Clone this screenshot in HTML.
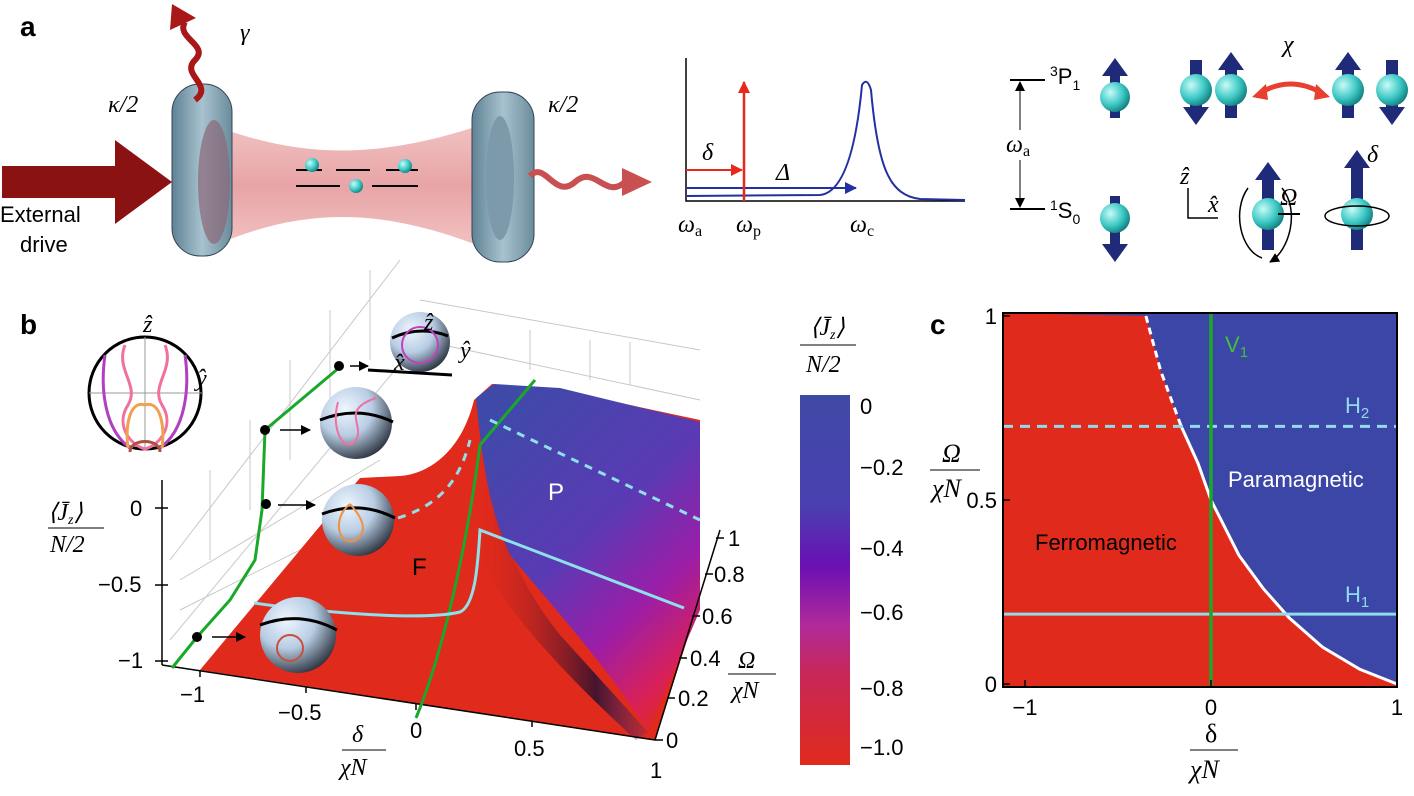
<!DOCTYPE html>
<html><head><meta charset="utf-8"><style>
body{margin:0;background:#fff;}
svg{display:block;font-family:"Liberation Sans",sans-serif;}
.t{font-size:22px;fill:#000}
.it{font-family:"Liberation Serif",serif;font-style:italic;font-size:24px}
</style></head><body>
<svg width="1414" height="796" viewBox="0 0 1414 796">
<defs>
<radialGradient id="sph" cx="0.35" cy="0.3" r="0.75"><stop offset="0" stop-color="#eef6ff"/><stop offset="0.5" stop-color="#b8cde4"/><stop offset="1" stop-color="#2c3440"/></radialGradient>
<radialGradient id="atom" cx="0.35" cy="0.35" r="0.7"><stop offset="0" stop-color="#c8fbf8"/><stop offset="0.6" stop-color="#3cc8c4"/><stop offset="1" stop-color="#137e80"/></radialGradient>
<linearGradient id="cb" x1="0" y1="0" x2="0" y2="1"><stop offset="0" stop-color="#3f4aa6"/><stop offset="0.3" stop-color="#4a3fb0"/><stop offset="0.46" stop-color="#6a10b4"/><stop offset="0.62" stop-color="#b02a9a"/><stop offset="0.75" stop-color="#c8285a"/><stop offset="1" stop-color="#e02a1c"/></linearGradient>
<linearGradient id="surfB" x1="0.2" y1="0" x2="0.8" y2="1"><stop offset="0" stop-color="#3f4aa8"/><stop offset="0.45" stop-color="#5a3ab4"/><stop offset="0.7" stop-color="#9a1ea8"/><stop offset="0.9" stop-color="#d8205a"/><stop offset="1" stop-color="#e02a20"/></linearGradient>
<linearGradient id="cliff" x1="0" y1="0" x2="1" y2="0"><stop offset="0" stop-color="#e02a1c" stop-opacity="0"/><stop offset="0.7" stop-color="#2a1030" stop-opacity="0.85"/><stop offset="1" stop-color="#3b2a7a" stop-opacity="0.2"/></linearGradient>
<linearGradient id="mir" x1="0" y1="0" x2="1" y2="0"><stop offset="0" stop-color="#5f8294"/><stop offset="0.5" stop-color="#a8c2cf"/><stop offset="1" stop-color="#6b8c9c"/></linearGradient>
<linearGradient id="beam" x1="0" y1="0" x2="0" y2="1"><stop offset="0" stop-color="#f2c3c3"/><stop offset="0.5" stop-color="#e8a4a6"/><stop offset="1" stop-color="#f2c3c3"/></linearGradient>
<marker id="ah" markerUnits="userSpaceOnUse" markerWidth="10" markerHeight="10" refX="9" refY="5" orient="auto"><path d="M0,0L10,5L0,10z" fill="#000"/></marker>
<marker id="ahr" markerUnits="userSpaceOnUse" markerWidth="12" markerHeight="12" refX="11" refY="6" orient="auto"><path d="M0,0L12,6L0,12z" fill="#e8281c"/></marker>
<marker id="ahb" markerUnits="userSpaceOnUse" markerWidth="12" markerHeight="12" refX="11" refY="6" orient="auto"><path d="M0,0L12,6L0,12z" fill="#2430a0"/></marker>
</defs>

<!-- PANEL A -->
<g>
<text x="20" y="36" font-weight="bold" font-size="28">a</text>
<path d="M2,166 L115,166 L115,140 L172,182 L115,224 L115,198 L2,198z" fill="#8b1212"/>
<text x="108" y="112" class="it">κ/2</text>
<text x="0" y="222" class="t">External</text>
<text x="20" y="252" class="t">drive</text>
<path d="M205,122 C300,160 380,160 490,122 L490,250 C380,206 300,206 205,250z" fill="url(#beam)"/>
<g><rect x="172" y="84" width="60" height="172" rx="28" fill="url(#mir)" stroke="#345" stroke-width="1"/><ellipse cx="214" cy="182" rx="16" ry="62" fill="#8a6878" opacity="0.7"/></g>
<g><rect x="472" y="92" width="62" height="170" rx="28" fill="url(#mir)" stroke="#345" stroke-width="1"/><ellipse cx="500" cy="178" rx="14" ry="62" fill="#7c9aaa"/></g>
<path d="M195,100 C215,85 180,75 195,60 C210,45 175,38 185,22" fill="none" stroke="#a81818" stroke-width="6"/>
<path d="M170,30 L172,4 L196,18z" fill="#a81818"/>
<text x="240" y="40" class="it">γ</text>
<path d="M530,176 C545,160 555,200 575,182 C595,164 605,200 625,182" fill="none" stroke="#c85050" stroke-width="6"/>
<path d="M622,168 L652,182 L622,196z" fill="#c85050"/>
<text x="548" y="112" class="it">κ/2</text>
<g stroke="#000" stroke-width="2"><line x1="296" y1="170" x2="322" y2="170"/><line x1="336" y1="170" x2="370" y2="170"/><line x1="386" y1="170" x2="418" y2="170"/><line x1="296" y1="186" x2="340" y2="186"/><line x1="372" y1="186" x2="418" y2="186"/></g>
<circle cx="312" cy="165" r="7" fill="url(#atom)"/><circle cx="356" cy="186" r="7" fill="url(#atom)"/><circle cx="405" cy="166" r="7" fill="url(#atom)"/>
<g>
<polyline points="686,58 686,201 965,201" fill="none" stroke="#000" stroke-width="1.5"/>
<path d="M686,196 L820,195 C840,193 855,160 862,85 C865,80 868,80 871,90 C878,170 890,195 920,199 L965,200" fill="none" stroke="#2430a0" stroke-width="2"/>
<line x1="686" y1="188" x2="856" y2="188" stroke="#2430a0" stroke-width="2" marker-end="url(#ahb)"/>
<line x1="686" y1="170" x2="742" y2="170" stroke="#e8281c" stroke-width="2" marker-end="url(#ahr)"/>
<line x1="744" y1="201" x2="744" y2="82" stroke="#e8281c" stroke-width="2.5" marker-end="url(#ahr)"/>
<text x="702" y="160" class="it">δ</text><text x="776" y="180" class="it">Δ</text>
<text x="678" y="232" class="it">ω<tspan font-size="16" dy="4" font-style="normal">a</tspan></text>
<text x="736" y="232" class="it">ω<tspan font-size="16" dy="4" font-style="normal">p</tspan></text>
<text x="850" y="232" class="it">ω<tspan font-size="16" dy="4" font-style="normal">c</tspan></text>
</g>
<g>
<line x1="1010" y1="80" x2="1045" y2="80" stroke="#000" stroke-width="2"/><line x1="1010" y1="209" x2="1045" y2="209" stroke="#000" stroke-width="2"/>
<line x1="1020" y1="130" x2="1020" y2="82" stroke="#000" marker-end="url(#ah)"/><line x1="1020" y1="160" x2="1020" y2="207" stroke="#000" marker-end="url(#ah)"/>
<text x="1050" y="84" class="t"><tspan font-size="14" dy="-8">3</tspan><tspan dy="8">P</tspan><tspan font-size="14" dy="6">1</tspan></text>
<text x="1050" y="218" class="t"><tspan font-size="14" dy="-8">1</tspan><tspan dy="8">S</tspan><tspan font-size="14" dy="6">0</tspan></text>
<text x="1006" y="152" class="it">ω<tspan font-size="16" dy="4" font-style="normal">a</tspan></text>
<g fill="#1f2a78">
<path d="M1115,58 L1102,76 L1110,76 L1110,118 L1120,118 L1120,76 L1128,76z"/>
<path d="M1115,262 L1102,244 L1110,244 L1110,196 L1120,196 L1120,244 L1128,244z"/>
<path d="M1196,125 L1183,107 L1190,107 L1190,60 L1202,60 L1202,107 L1209,107z"/>
<path d="M1231,52 L1218,70 L1225,70 L1225,118 L1237,118 L1237,70 L1244,70z"/>
<path d="M1348,52 L1335,70 L1342,70 L1342,118 L1354,118 L1354,70 L1361,70z"/>
<path d="M1392,125 L1379,107 L1386,107 L1386,60 L1398,60 L1398,107 L1405,107z"/>
<path d="M1268,162 L1255,180 L1262,180 L1262,250 L1274,250 L1274,180 L1281,180z"/>
<path d="M1357,150 L1344,168 L1351,168 L1351,250 L1363,250 L1363,168 L1370,168z"/>
</g>
<circle cx="1115" cy="97" r="15" fill="url(#atom)"/><circle cx="1115" cy="218" r="15" fill="url(#atom)"/>
<circle cx="1196" cy="90" r="16" fill="url(#atom)"/><circle cx="1231" cy="90" r="16" fill="url(#atom)"/>
<circle cx="1348" cy="90" r="16" fill="url(#atom)"/><circle cx="1392" cy="90" r="16" fill="url(#atom)"/>
<circle cx="1268" cy="214" r="16" fill="url(#atom)"/><circle cx="1357" cy="214" r="16" fill="url(#atom)"/>
<g><path d="M1262,92 Q1290,76 1320,92" fill="none" stroke="#e84030" stroke-width="5"/><path d="M1252,97 L1266,84 L1268,100z M1330,97 L1316,84 L1314,100z" fill="#e84030"/></g>
<text x="1283" y="52" class="it">χ</text>
<path d="M1248,188 C1232,210 1240,250 1262,258" fill="none" stroke="#000" stroke-width="1.5"/><path d="M1282,188 C1300,210 1290,250 1270,262" fill="none" stroke="#000" stroke-width="1.5" marker-end="url(#ah)"/>
<line x1="1278" y1="214" x2="1300" y2="214" stroke="#000" stroke-width="2"/>
<text x="1280" y="205" class="it" font-size="20">Ω</text>
<ellipse cx="1357" cy="216" rx="32" ry="10" fill="none" stroke="#000" stroke-width="1.5"/>
<text x="1367" y="162" class="it" font-size="20">δ</text>
<polyline points="1188,188 1188,218 1218,218" fill="none" stroke="#000" stroke-width="1.5"/>
<text x="1180" y="184" class="it" font-size="20">ẑ</text><text x="1208" y="212" class="it" font-size="20">x̂</text>
</g>
</g>

<!-- PANEL B -->
<g>
<text x="20" y="334" font-weight="bold" font-size="28">b</text>
<g stroke="#c8c8c8" stroke-width="1">
<line x1="170" y1="640" x2="420" y2="340"/><line x1="170" y1="560" x2="400" y2="260"/>
<line x1="210" y1="560" x2="210" y2="470"/><line x1="250" y1="510" x2="250" y2="420"/><line x1="290" y1="460" x2="290" y2="360"/><line x1="330" y1="410" x2="330" y2="310"/><line x1="370" y1="360" x2="370" y2="270"/>
<line x1="420" y1="340" x2="700" y2="400"/><line x1="420" y1="300" x2="700" y2="350"/>
<line x1="530" y1="330" x2="530" y2="370"/><line x1="590" y1="340" x2="590" y2="380"/><line x1="630" y1="342" x2="630" y2="385"/>
<line x1="180" y1="610" x2="380" y2="510"/><line x1="180" y1="580" x2="380" y2="460"/>
</g>
<path d="M200,670 L655,740 L700,600 L700,420 L560,390 L492,384 L474,400 C462,450 430,474 400,476 L360,478z" fill="#e02a1c"/>
<path d="M476,398 L494,384 L560,388 L700,422 L700,610 L648,732 C610,670 560,615 510,555 C490,515 482,460 476,398z" fill="url(#surfB)"/>
<path d="M476,398 C482,480 500,560 560,635 L648,732 L636,740 C560,670 510,615 480,560 C470,520 472,450 476,398z" fill="url(#cliff)"/>
<g stroke="#000" stroke-width="1.5">
<line x1="162" y1="480" x2="162" y2="665"/><line x1="162" y1="665" x2="655" y2="740"/><line x1="655" y1="740" x2="720" y2="530"/>
<line x1="155" y1="508" x2="168" y2="508"/><line x1="155" y1="585" x2="168" y2="585"/><line x1="155" y1="661" x2="168" y2="661"/>
<line x1="200" y1="671" x2="200" y2="677"/><line x1="306" y1="687" x2="306" y2="693"/><line x1="416" y1="704" x2="416" y2="710"/><line x1="532" y1="721" x2="532" y2="727"/>
<line x1="655" y1="740" x2="663" y2="740"/><line x1="667" y1="698" x2="675" y2="698"/><line x1="679" y1="658" x2="687" y2="658"/><line x1="692" y1="616" x2="700" y2="616"/><line x1="705" y1="574" x2="713" y2="574"/><line x1="716" y1="538" x2="724" y2="538"/>
</g>
<g class="t" font-size="21">
<text x="130" y="516">0</text><text x="98" y="592">−0.5</text><text x="118" y="668">−1</text>
<text x="180" y="702">−1</text><text x="278" y="720">−0.5</text><text x="410" y="738">0</text><text x="514" y="756">0.5</text><text x="650" y="778">1</text>
<text x="666" y="748">0</text><text x="678" y="706">0.2</text><text x="690" y="666">0.4</text><text x="702" y="624">0.6</text><text x="714" y="582">0.8</text><text x="728" y="546">1</text>
</g>
<text x="738" y="668" class="it" font-size="24">Ω</text><line x1="728" y1="674" x2="776" y2="674" stroke="#000"/><text x="732" y="698" class="it" font-size="24">χN</text>
<text x="352" y="742" class="it">δ</text><line x1="342" y1="750" x2="386" y2="750" stroke="#000"/><text x="340" y="775" class="it">χN</text>
<text x="48" y="520" class="it" font-size="22">⟨J̄<tspan font-size="14" dy="4">z</tspan><tspan dy="-4">⟩</tspan></text><line x1="48" y1="528" x2="104" y2="528" stroke="#000"/><text x="50" y="552" class="it" font-size="22">N/2</text>
<polyline points="172,668 197,637 230,600 255,560 262,510 265,430 340,367" fill="none" stroke="#1aa82a" stroke-width="3"/>
<path d="M416,718 C440,660 465,560 480,445 L535,380" fill="none" stroke="#1aa82a" stroke-width="3"/>
<path d="M254,603 C300,610 420,622 460,612 C476,605 478,560 480,530 L684,608" fill="none" stroke="#8ee0ea" stroke-width="3"/>
<path d="M398,518 C440,505 460,480 470,440" fill="none" stroke="#8ee0ea" stroke-width="3" stroke-dasharray="8,7"/>
<path d="M490,420 L700,520" fill="none" stroke="#8ee0ea" stroke-width="3" stroke-dasharray="8,7"/>
<g fill="#000"><circle cx="197" cy="637" r="5"/><circle cx="265" cy="430" r="5"/><circle cx="266" cy="504" r="5"/><circle cx="339" cy="366" r="5"/></g>
<g stroke="#000" stroke-width="1.5" marker-end="url(#ah)"><line x1="212" y1="637" x2="245" y2="637"/><line x1="280" y1="430" x2="310" y2="430"/><line x1="278" y1="505" x2="315" y2="505"/><line x1="350" y1="366" x2="368" y2="366"/></g>
<g>
<circle cx="298" cy="635" r="38" fill="url(#sph)"/><path d="M260,625 Q300,610 337,630" fill="none" stroke="#000" stroke-width="3"/><circle cx="290" cy="648" r="13" fill="none" stroke="#c85040" stroke-width="2"/>
<circle cx="358" cy="520" r="36" fill="url(#sph)"/><path d="M322,514 Q360,500 395,518" fill="none" stroke="#000" stroke-width="3"/><path d="M350,504 C330,520 340,548 356,540 C370,530 360,515 350,504" fill="none" stroke="#f09040" stroke-width="2"/>
<circle cx="356" cy="423" r="36" fill="url(#sph)"/><path d="M320,420 Q358,405 393,422" fill="none" stroke="#000" stroke-width="3"/><path d="M338,402 C330,430 345,455 356,440 C365,425 340,410 376,398" fill="none" stroke="#f070a0" stroke-width="2"/>
<circle cx="420" cy="342" r="30" fill="url(#sph)"/><path d="M368,370 L452,375" stroke="#000" stroke-width="3"/><path d="M392,338 Q420,325 448,336" fill="none" stroke="#000" stroke-width="3"/><circle cx="420" cy="345" r="18" fill="none" stroke="#c040c0" stroke-width="2"/>
<text x="424" y="330" class="it" font-size="20">ẑ</text><text x="460" y="358" class="it" font-size="20">ŷ</text><text x="394" y="370" class="it" font-size="20">x̂</text>
</g>
<text x="548" y="500" fill="#fff" font-size="24">P</text>
<text x="412" y="575" fill="#000" font-size="24">F</text>
<g>
<circle cx="145" cy="393" r="56" fill="#fff" stroke="#000" stroke-width="3"/>
<line x1="89" y1="393" x2="202" y2="393" stroke="#999"/><line x1="145" y1="337" x2="145" y2="449" stroke="#999"/>
<path d="M125,345 C115,370 140,385 128,405 C115,425 130,445 145,449 C160,445 175,425 162,405 C150,385 175,370 165,345" fill="none" stroke="#f070a0" stroke-width="3"/>
<path d="M105,355 C100,390 105,430 130,448 M185,355 C190,390 185,430 160,448" fill="none" stroke="#b040c0" stroke-width="3"/>
<path d="M128,448 C125,425 130,400 145,405 C160,400 165,425 162,448" fill="none" stroke="#f0a050" stroke-width="3"/>
<path d="M130,452 C130,438 160,438 160,452" fill="none" stroke="#b05040" stroke-width="3"/>
<text x="143" y="332" class="it" font-size="20">ẑ</text><text x="196" y="386" class="it" font-size="20">ŷ</text>
</g>
<g>
<rect x="800" y="395" width="50" height="370" fill="url(#cb)"/>
<text x="810" y="335" class="it" font-size="22">⟨J̄<tspan font-size="14" dy="4">z</tspan><tspan dy="-4">⟩</tspan></text><line x1="800" y1="345" x2="856" y2="345" stroke="#000"/><text x="806" y="372" class="it" font-size="22">N/2</text>
<g class="t" font-size="21"><text x="860" y="414">0</text><text x="860" y="475">−0.2</text><text x="860" y="556">−0.4</text><text x="860" y="620">−0.6</text><text x="860" y="696">−0.8</text><text x="860" y="755">−1.0</text></g>
</g>
</g>

<!-- PANEL C -->
<g>
<text x="930" y="334" font-weight="bold" font-size="28">c</text>
<g id="pc"></g>
</g>
</svg>
<script>
const boundaryDelta=[-0.35,-0.27,-0.16,-0.07,0.0,0.15,0.28,0.42,0.6,0.8,1.0];
const boundaryOmega=[1.0,0.85,0.7,0.6,0.5,0.35,0.26,0.18,0.1,0.04,0.0];
const h1Omega=0.19, h2Omega=0.7, v1Delta=0.0;
const xTicks=[-1,0,1], yTicks=[0,0.5,1];
const X0=1003,X1=1397,Y0=313,Y1=687;
const xs=d=>1025+(d+1)*186, ys=o=>684-o*368;
const NS='http://www.w3.org/2000/svg';
const g=document.getElementById('pc');
function mk(t,a,p){const e=document.createElementNS(NS,t);for(const k in a)e.setAttribute(k,a[k]);(p||g).appendChild(e);return e;}
let r=mk('rect',{x:X0,y:Y0,width:X1-X0,height:Y1-Y0,fill:'#3b46a6'});


let pts=boundaryDelta.map((d,i)=>xs(d)+','+ys(boundaryOmega[i]));
let red=mk('polygon',{points:X0+','+Y0+' '+pts.join(' ')+' '+X1+','+Y1+' '+X0+','+Y1,fill:'#e02a1c'});


let bs=mk('polyline',{points:pts.slice(2).join(' '),fill:'none',stroke:'#fff','stroke-width':3});


let bd=mk('polyline',{points:pts.slice(0,3).join(' '),fill:'none',stroke:'#fff','stroke-width':3,'stroke-dasharray':'7,5'});


let h2=mk('line',{x1:X0,x2:X1,y1:ys(h2Omega),y2:ys(h2Omega),stroke:'#90dcea','stroke-width':3,'stroke-dasharray':'10,7'});


let h1=mk('line',{x1:X0,x2:X1,y1:ys(h1Omega),y2:ys(h1Omega),stroke:'#90dcea','stroke-width':3});


let v1=mk('line',{x1:xs(v1Delta),x2:xs(v1Delta),y1:Y0,y2:Y1,stroke:'#1aa82a','stroke-width':3.5});


let fr=mk('rect',{x:X0,y:Y0,width:X1-X0,height:Y1-Y0,fill:'none',stroke:'#000','stroke-width':2});


function txt(x,y,s,a){const e=mk('text',Object.assign({x:x,y:y,'font-size':22},a||{}));e.textContent=s;return e;}
xTicks.forEach(v=>{const x=xs(v);mk('line',{x1:x,x2:x,y1:Y1,y2:Y1-7,stroke:'#000','stroke-width':1.5});
const t=txt(x,Y1+28,v<0?'−'+Math.abs(v):String(v),{'text-anchor':'middle'});

});
yTicks.forEach(v=>{const y=ys(v);mk('line',{x1:X0,x2:X0+7,y1:y,y2:y,stroke:'#000','stroke-width':1.5});
const t=txt(X0-6,y+8,String(v),{'text-anchor':'end'});

});
let l;
l=txt(1035,550,'Ferromagnetic',{fill:'#000'});
l=txt(1228,487,'Paramagnetic',{fill:'#fff'});
l=txt(1225,352,'V',{fill:'#40c040'});mk('tspan',{'font-size':15,dy:5},l).textContent='1';
l=txt(1345,413,'H',{fill:'#90dcea'});mk('tspan',{'font-size':15,dy:5},l).textContent='2';
l=txt(1345,602,'H',{fill:'#90dcea'});mk('tspan',{'font-size':15,dy:5},l).textContent='1';
l=txt(1205,742,'δ',{'font-family':'Liberation Serif','font-size':26});
mk('line',{x1:1190,x2:1238,y1:750,y2:750,stroke:'#000'});
txt(1190,778,'χN',{'font-family':'Liberation Serif','font-style':'italic','font-size':26});
l=txt(942,462,'Ω',{'font-family':'Liberation Serif','font-style':'italic','font-size':26});
mk('line',{x1:930,x2:980,y1:470,y2:470,stroke:'#000'});
txt(932,497,'χN',{'font-family':'Liberation Serif','font-style':'italic','font-size':26});
</script>
</body></html>
